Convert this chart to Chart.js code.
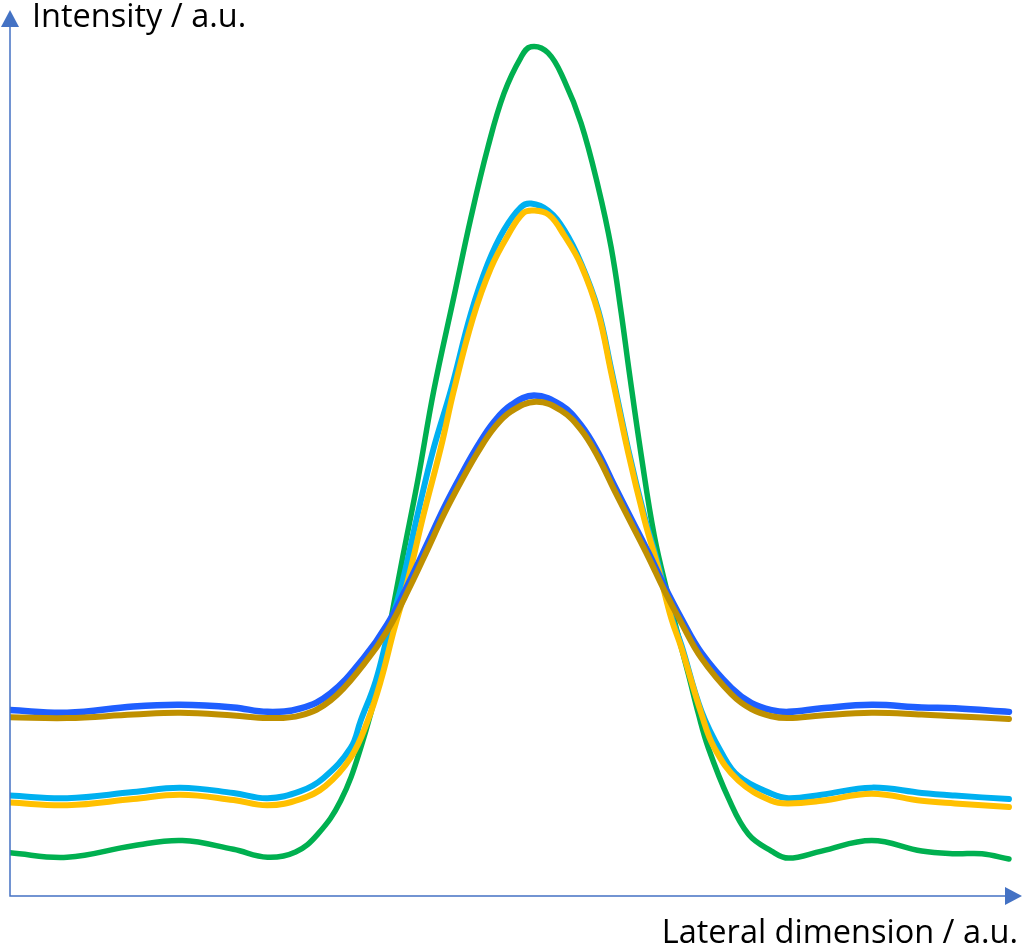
<!DOCTYPE html>
<html>
<head>
<meta charset="utf-8">
<script src="https://cdn.jsdelivr.net/npm/chart.js@4.4.1/dist/chart.umd.min.js"></script>
<style>
  html, body { margin: 0; padding: 0; background: #fff; }
  #chartBox { width: 1025px; height: 947px; }
</style>
</head>
<body>
<div id="chartBox"><canvas id="myChart"></canvas></div>
<script>
  // profiles (lateral position, intensity), arbitrary units
  var greenX = [0, 5.7, 12.3, 17.2, 22.3, 25.7, 28.5, 30.7, 33.0, 35.0, 37.0, 38.0, 39.2, 40.7, 42.3, 44.3, 46.0, 47.7, 49.3, 51.0, 52.0, 53.7, 55.3, 57.0, 58.7, 60.0, 61.0, 61.8, 63.0, 64.3, 65.7, 66.7, 67.7, 68.7, 69.7, 71.7, 73.7, 76.0, 77.7, 81.0, 86.0, 91.0, 94.3, 97.0, 99.7];
  var greenY = [4.9, 4.4, 5.7, 6.3, 5.3, 4.4, 5.0, 7.0, 10.8, 16.8, 25.2, 31.3, 38.5, 47.2, 57.4, 68.0, 77.0, 85.0, 91.1, 95.2, 96.4, 95.7, 92.6, 87.7, 80.5, 73.6, 66.2, 59.5, 50.0, 40.9, 34.0, 29.5, 25.2, 20.7, 16.8, 11.1, 7.0, 5.1, 4.3, 5.1, 6.3, 5.1, 4.8, 4.8, 4.2];

  var lightBlueX = [0, 5.7, 12.3, 17.0, 22.3, 25.7, 29.0, 31.3, 34.0, 35.0, 36.5, 37.8, 39.2, 40.7, 42.3, 44.0, 46.0, 47.7, 49.3, 51.0, 52.0, 53.7, 55.3, 57.0, 58.7, 60.0, 61.7, 63.3, 64.7, 66.0, 67.0, 69.0, 71.0, 72.7, 76.0, 77.7, 81.0, 86.0, 91.0, 94.3, 99.7];
  var lightBlueY = [11.4, 11.1, 11.8, 12.3, 11.7, 11.1, 11.9, 13.4, 16.8, 19.9, 24.4, 30.1, 35.8, 43.4, 50.9, 57.4, 66.1, 71.8, 75.6, 78.2, 78.6, 77.8, 75.6, 71.8, 66.5, 59.8, 50.7, 43.2, 37.6, 31.8, 28.5, 21.0, 16.3, 13.6, 11.6, 11.1, 11.5, 12.3, 11.7, 11.4, 11.0];

  var yellowX = [0, 5.7, 12.3, 17.0, 22.3, 25.7, 29.0, 31.5, 34.0, 35.7, 37.0, 38.3, 39.7, 41.3, 43.0, 44.3, 46.2, 48.0, 49.7, 51.2, 52.3, 53.8, 55.3, 57.0, 58.7, 60.0, 61.7, 63.3, 64.7, 66.0, 67.0, 69.0, 70.3, 72.7, 76.0, 77.7, 81.0, 86.0, 91.0, 94.3, 99.7];
  var yellowY = [10.6, 10.3, 11.0, 11.5, 10.9, 10.3, 11.0, 12.5, 15.7, 19.9, 24.4, 30.1, 35.8, 43.4, 50.9, 57.4, 65.6, 71.3, 75.0, 77.5, 77.8, 77.3, 75.0, 71.6, 66.2, 59.4, 50.3, 42.8, 37.2, 31.5, 28.2, 20.7, 16.8, 13.1, 10.8, 10.5, 10.8, 11.6, 10.8, 10.5, 10.1];

  var blueX = [0, 5.7, 12.3, 17.0, 22.3, 25.7, 29.0, 32.0, 35.3, 37.7, 40.0, 41.7, 43.3, 45.0, 46.7, 48.3, 50.0, 52.3, 55.0, 57.0, 58.7, 60.3, 62.0, 63.7, 65.3, 67.0, 69.0, 72.0, 74.0, 76.0, 77.7, 81.0, 86.0, 91.0, 94.3, 99.7];
  var blueY = [21.1, 20.8, 21.5, 21.7, 21.4, 20.9, 21.3, 23.0, 27.0, 30.9, 36.0, 40.1, 44.0, 47.7, 51.1, 53.8, 55.7, 56.8, 55.7, 53.4, 50.3, 46.6, 42.8, 39.0, 35.2, 31.5, 27.6, 23.6, 21.9, 21.1, 20.9, 21.3, 21.7, 21.4, 21.3, 20.9];

  var brownX = [0, 5.7, 12.3, 17.0, 22.3, 25.7, 29.0, 32.0, 35.3, 37.7, 40.0, 41.7, 43.3, 45.0, 46.7, 48.3, 50.0, 52.5, 55.0, 57.0, 58.7, 60.3, 62.0, 63.7, 65.3, 67.0, 69.0, 72.0, 74.0, 76.0, 77.7, 81.0, 86.0, 91.0, 94.3, 99.7];
  var brownY = [20.3, 20.2, 20.6, 20.8, 20.5, 20.2, 20.5, 22.2, 26.3, 30.2, 35.3, 39.4, 43.3, 47.0, 50.4, 53.1, 55.0, 56.1, 55.1, 52.9, 49.8, 46.1, 42.3, 38.5, 34.7, 31.0, 27.0, 22.9, 21.2, 20.4, 20.2, 20.5, 20.8, 20.6, 20.4, 20.1];

  var yTitle = 'Intensity / a.u.';
  var xTitle = 'Lateral dimension / a.u.';

  function toPoints(xs, ys) {
    return xs.map(function (v, i) { return {x: v, y: ys[i]}; });
  }

  function profile(label, xs, ys, color, width, order) {
    return {
      label: label,
      data: toPoints(xs, ys),
      borderColor: color,
      borderWidth: width,
      borderCapStyle: 'round',
      borderJoinStyle: 'round',
      pointRadius: 0,
      tension: 0.4,
      fill: false,
      order: order
    };
  }

  var axisColor = '#4472C4';

  // axes with arrow heads + the two axis titles
  const arrowAxes = {
    id: 'arrowAxes',
    afterDraw: function (chart) {
      var ctx = chart.ctx, a = chart.chartArea;
      ctx.save();
      ctx.strokeStyle = axisColor;
      ctx.fillStyle = axisColor;
      ctx.lineWidth = 1.5;
      ctx.beginPath();
      ctx.moveTo(a.left, a.top + 12);
      ctx.lineTo(a.left, a.bottom);
      ctx.lineTo(a.right - 17, a.bottom);
      ctx.stroke();
      // up arrow
      ctx.beginPath();
      ctx.moveTo(a.left, a.top - 5);
      ctx.lineTo(a.left - 9, a.top + 12);
      ctx.lineTo(a.left + 9, a.top + 12);
      ctx.closePath();
      ctx.fill();
      // right arrow
      ctx.beginPath();
      ctx.moveTo(a.right, a.bottom);
      ctx.lineTo(a.right - 17, a.bottom - 9);
      ctx.lineTo(a.right - 17, a.bottom + 9);
      ctx.closePath();
      ctx.fill();

      ctx.fillStyle = '#000';
      ctx.font = '32.5px "Open Sans"';
      ctx.textBaseline = 'alphabetic';
      ctx.textAlign = 'left';
      ctx.fillText(yTitle, a.left + 22, a.top + 12);
      ctx.textAlign = 'right';
      ctx.fillText(xTitle, a.right - 4, a.bottom + 47);
      ctx.restore();
    }
  };

  const config = {
    type: 'line',
    data: {
      datasets: [
        profile('green', greenX, greenY, '#00B050', 5.5, 5),
        profile('light blue', lightBlueX, lightBlueY, '#00B0F0', 6, 4),
        profile('yellow', yellowX, yellowY, '#FFC000', 6, 3),
        profile('blue', blueX, blueY, '#1F5FFF', 6.5, 2),
        profile('brown', brownX, brownY, '#BF9000', 6, 1)
      ]
    },
    options: {
      responsive: true,
      maintainAspectRatio: false,
      animation: false,
      layout: {
        padding: {left: 10, top: 15, right: 3, bottom: 51}
      },
      scales: {
        x: {type: 'linear', min: 0, max: 101, display: false},
        y: {type: 'linear', min: 0, max: 100, display: false}
      },
      plugins: {
        legend: {display: false},
        tooltip: {enabled: false}
      }
    },
    plugins: [arrowAxes]
  };

  const myChart = new Chart(document.getElementById('myChart'), config);
</script>
</body>
</html>
